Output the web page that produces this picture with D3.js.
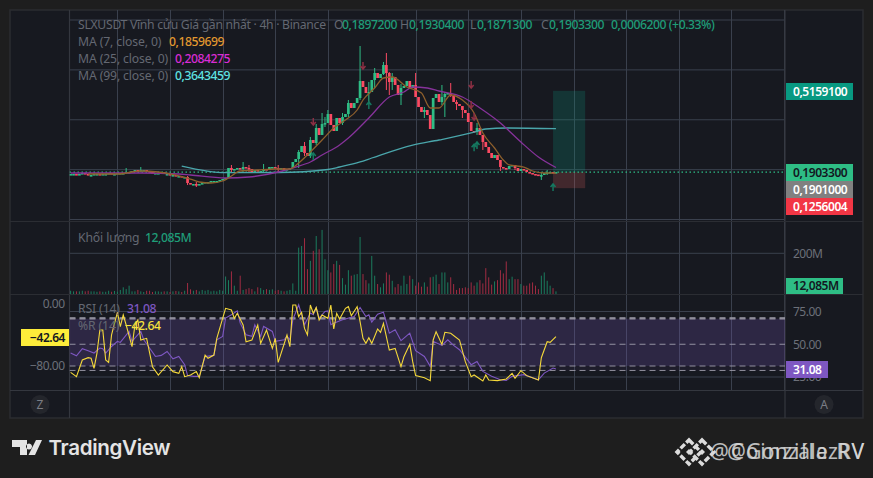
<!DOCTYPE html>
<html>
<head>
<meta charset="utf-8">
<script src="https://cdn.jsdelivr.net/npm/d3@7"></script>
<style>
  html, body { margin: 0; padding: 0; background: #1e1e1e; overflow: hidden; }
  svg { display: block; font-family: "Noto Sans", sans-serif; }
  .axis path, .axis line { display: none; }
  .axis text { fill: #6c7079; font-size: 12px; letter-spacing: -0.5px; font-family: "Noto Sans", sans-serif; }
</style>
</head>
<body>
<div id="chart"></div>
<script>
// Close of each 4h candle
const closes = [
  .1825,.1825,.1784,.1825,.1865,.1825,.1784,.1784,.1825,.1825,.1784,.1825,.1825,.1865,.1825,.1825,.1865,.1865,
  .1865,.1905,.1905,.1945,.1985,.1945,.1985,.1985,.1945,.1905,.1865,.1865,.1865,.1905,.1825,.1825,.1784,
  .1784,.1744,.1744,.1704,.1704,.1463,.1423,.1423,.1383,.1423,.1463,.1504,.1504,.1544,.1544,.1544,.1584,.1624,.1664,.2065,
  .1985,.2025,.2065,.2025,.2105,.2065,.2025,.1905,.1985,.1945,.1945,.2025,.1985,.2105,.2105,.2065,.2025,.2065,.1985,.2025,.2065,
  .2306,.2426,.2707,.2947,.2667,.2546,.3188,.3068,.3669,.3389,.3829,.3870,.4231,.3790,.3549,.4070,.3870,.4110,.4231,.4672,
  .4471,.4672,.4872,.5554,.5313,.5073,.5113,.5594,.5875,.5674,.5835,.6196,.5875,.5514,.5714,.5394,.4993,.5273,.5353,.5554,
  .5273,.5394,.4912,.4511,.4311,.4391,.4190,.3629,.4872,.5033,.4712,.4912,.5033,.5073,.4952,.4712,.4632,.4551,.4391,.4271,
  .3910,.3549,.3509,.3669,.3389,.3108,.2907,.2667,.2466,.2586,.2386,.2105,.2065,.2025,.2145,.2186,.2065,.1945,.2025,.1985,
  .1905,.1865,.1825,.1805,.1744,.1784,.1865,.1885,.1905,.1897,.1903
];

// Candles with a visible wick
const wickIdx  = [19,24,40,43,55,59,61,66,71,78,80,82,84,86,87,88,93,95,99,102,104,107,108,109,110,113,118,121,127,128,130,132,134,139,141,146,147,152,161,163];
const wickHigh = [.2065,.2105,.1744,.1504,.2186,.2306,.2186,.2226,.2186,.2787,.3108,.3309,.3829,.4271,.4110,.4391,.4271,.4792,.6957,.5514,.6075,.6316,.6677,.5915,.5875,.5434,.5875,.4511,.5393,.5113,.5474,.4792,.4471,.3870,.3268,.2386,.2386,.2145,.1905,.1985];
const wickLow  = [.1825,.1905,.1383,.1303,.1905,.1905,.1865,.1905,.1905,.2065,.2546,.2466,.2987,.3509,.3709,.4070,.3790,.4110,.4792,.4672,.5273,.5794,.5193,.4993,.5193,.4591,.4912,.4070,.4591,.4110,.4912,.4391,.4070,.3389,.2787,.2386,.1945,.1985,.1584,.1784];

// Volume in millions
const volumes = [
  16,13,13,13,16,13,16,13,13,11,13,11,11,16,11,15,11,20,
  33,24,41,13,13,20,13,10,16,16,10,13,13,11,13,13,10,13,15,13,10,16,
  54,23,16,20,13,20,16,20,13,16,13,20,16,
  86,68,111,41,16,90,20,24,29,24,13,33,29,20,24,20,23,16,20,16,13,16,20,
  52,16,228,236,274,122,
  163,212,285,220,315,171,117,106,147,163,143,78,46,117,90,95,98,280,98,68,52,187,90,49,33,52,106,95,65,33,49,41,90,49,90,73,41,57,36,57,36,
  82,85,95,49,106,106,57,82,49,20,29,29,33,29,57,41,57,68,52,127,82,46,62,68,117,101,160,73,85,73,73,49,41,41,52,57,41,24,90,106,65,41,29,13
];

// Moving averages
const ma7Idx  = [6,16,24,30,36,40,44,48,52,54,58,64,70,75,78,82,86,90,94,98,100,104,107,110,115,120,123,126,130,134,138,141,145,148,150,155,158,162,166];
const ma7Val  = [.1825,.1825,.1945,.1905,.1784,.1664,.1504,.1463,.1544,.1664,.1945,.1985,.2025,.2025,.2266,.2707,.3188,.3669,.3990,.4391,.4792,.5273,.5674,.5714,.5313,.5073,.4471,.4471,.4993,.4792,.4271,.3469,.2867,.2386,.2186,.2105,.1945,.1865,.1860];
const ma25Idx = [0,24,37,41,53,61,71,77,82,86,92,95,102,109,114,117,122,126,134,140,147,154,160,166];
const ma25Val = [.1865,.1865,.1825,.1784,.1664,.1704,.1905,.2105,.2306,.2586,.2987,.3268,.4070,.4912,.5113,.5313,.5273,.5153,.4912,.4471,.3870,.3108,.2506,.2084];
const ma99Idx = [38,53,71,88,92,99,103,117,126,137,142,149,166];
const ma99Val = [.2145,.1877,.1885,.2005,.2105,.2306,.2466,.2987,.3188,.3469,.3629,.3669,.3643];

// RSI (14)
const rsiIdx = [0,2,4,6,8,10,11,12,14,16,17,20,21,24,25,27,29,31,33,35,37,39,40,42,44,46,49,50,52,53,55,57,58,60,62,63,65,66,69,70,73,74,75,76,78,80,
  82,83,84,85,87,88,89,90,93,97,99,101,102,103,105,107,109,111,113,116,118,121,123,124,127,129,131,133,137,139,141,144,147,149,151,155,160,162,165,166];
const rsiVal = [43.3,41.2,46.6,45.1,43.3,47.1,46.6,43.3,48.3,52.2,51.4,59.8,52.2,59.8,53.4,47.1,40.7,41.5,44.5,38.9,40.7,34.4,26.2,25.5,25.5,40.7,41.5,53.4,56,70,72.5,75.5,66.1,57.2,56,64.9,56,63.6,59.8,52.2,53.4,56,53.4,68.7,80.1,64.9,
  73.8,72.5,78.1,70,75,75.5,64.9,66.1,68.7,71.2,78.1,71.2,72.5,66.9,73,74.5,58.5,61,52.7,58.5,45.1,40.7,33.1,52.2,49.1,53.4,49.1,45.8,34.4,36.9,29.3,25.5,22.9,22.4,25.5,26.8,22.9,28,31.8,31.08];

// %R (14)
const wprIdx = [0,2,4,6,7,8,9,10,11,12,13,14,16,17,18,19,21,22,23,24,26,28,30,33,35,37,38,39,41,43,44,46,47,49,50,52,53,55,56,57,59,60,62,64,65,67,69,70,71,74,75,76,77,78,79,80,81,82,
  83,84,85,86,88,89,90,91,92,94,95,96,98,99,100,101,102,103,105,106,107,109,111,113,114,116,117,118,121,123,124,125,127,128,130,133,135,137,138,141,142,143,146,149,151,152,154,156,160,161,163,164,166];
const wprVal = [-88.1,-93.6,-72.3,-69.4,-70.2,-83,-63.8,-34.1,-34.1,-72.3,-75.3,-40.4,-11.5,-29.8,-14.9,-27.7,-55.3,-27.7,-21.3,-46.8,-44.7,-80.9,-91.5,-78.7,-87.2,-89.4,-80.9,-93.6,-91.5,-87.2,-94.9,-66,-70.2,-66,-44.7,-19.2,-6.4,-8.6,-19.2,-12.8,-27.7,-49,-46.8,-27.7,-51.1,-34.1,-57.5,-44.7,-75.3,-40.4,-55.3,-2.2,-2.2,-17,-11.5,-32,-40.4,-2.2,
  -12.8,-5.6,-21.3,-14.9,-19.2,-2.2,-32.8,-12.8,-20,-6.4,-4.3,-15.8,-4.3,-23.4,-44.7,-51.1,-43.9,-51.1,-32.8,-37,-25.6,-59.6,-57.5,-80.9,-68.1,-52.4,-74.5,-92.3,-94.9,-98.7,-46.8,-36.2,-52.4,-37,-38.3,-46.8,-74.5,-93.6,-91.5,-99.1,-91.5,-97.9,-98.7,-96.6,-89.4,-95.7,-86,-92.3,-97.9,-69.4,-49,-49.8,-42.64];

// Pin arrows on the candles
const downIdx = [83,100,137,137,138];
const downVal = [.3789,.6035,.5273,.4471,.3990];
const upIdx   = [83,102,138,139,165];
const upVal   = [.2667,.4712,.3017,.3108,.1423];

// Tick labels
const priceTicks = [0.8,0.6,0.4,0.2,0];
const dayTicks   = [16,34,52,70,88,118,136,154,172,190,208,226,244];
const dayLabels  = ["14","17","20","23","26","Tháng 7","4","7","10","13","16","19","22"];

// Position box and last values
const boxStart = 165, boxEnd = 176;
const target = 0.5159100, lastClose = 0.1903300, entry = 0.1901000, stop = 0.1256004;

const width = 873, height = 478;
const left = 69.5, right = 785;
const green = "#2ebd85", red = "#fb4a62";

const svg = d3.select("#chart").append("svg")
    .attr("width", width)
    .attr("height", height);

// Scales, one per pane
const x = d3.scaleLinear().domain([16, 172]).range([117.4, 573.5]);
const yPrice = d3.scaleLinear().domain([0, 0.8]).range([219.5, 20]);
const yVol = d3.scaleLinear().domain([0, 200]).range([294, 253.3]);
const yRsi = d3.scaleLinear().domain([25, 75]).range([377, 311.5]);
const yWpr = d3.scaleLinear().domain([-80, 0]).range([366, 303.3]);

const clip = (id, x0, y0, w, h) => svg.append("clipPath").attr("id", id)
    .append("rect").attr("x", x0).attr("y", y0).attr("width", w).attr("height", h);
clip("plot", left, 10, right - left, 380);
clip("axisx", left, 391, right - left, 26);
clip("axisp", right, 10, 78, 211);

// Frame
svg.append("rect").attr("x", 0).attr("y", 0).attr("width", width).attr("height", height).attr("fill", "#1e1e1e");
svg.append("rect").attr("x", 10).attr("y", 10).attr("width", 853).attr("height", 408)
    .attr("fill", "#171920").attr("stroke", "#2b2c30").attr("stroke-width", 1.5);

// Grid
const grid = svg.append("g").attr("stroke", "#3a404d").attr("stroke-width", 1);
dayTicks.forEach(d => {
    grid.append("line").attr("x1", Math.round(x(d)) + 0.5).attr("x2", Math.round(x(d)) + 0.5).attr("y1", 10).attr("y2", 390);
});
priceTicks.forEach(p => {
    grid.append("line").attr("x1", left).attr("x2", right).attr("y1", yPrice(p)).attr("y2", yPrice(p));
});
grid.append("line").attr("x1", left).attr("x2", right).attr("y1", yVol(200)).attr("y2", yVol(200));
[75, 25].forEach(v => {
    grid.append("line").attr("x1", left).attr("x2", right).attr("y1", yRsi(v)).attr("y2", yRsi(v));
});

// Pane separators
const sep = svg.append("g").attr("stroke", "#34373f").attr("stroke-width", 1.2);
sep.append("line").attr("x1", left).attr("x2", left).attr("y1", 10).attr("y2", 418);
sep.append("line").attr("x1", right).attr("x2", right).attr("y1", 10).attr("y2", 418);
sep.append("line").attr("x1", 10).attr("x2", 863).attr("y1", 221.5).attr("y2", 221.5).attr("stroke", "#2b2d33");
sep.append("line").attr("x1", 10).attr("x2", 863).attr("y1", 294.5).attr("y2", 294.5).attr("stroke", "#2b2d33");
sep.append("line").attr("x1", 10).attr("x2", 863).attr("y1", 390.5).attr("y2", 390.5);

// RSI and %R bands
const plot = svg.append("g").attr("clip-path", "url(#plot)");
plot.append("rect").attr("x", left).attr("width", right - left)
    .attr("y", yRsi(70)).attr("height", yRsi(30) - yRsi(70)).attr("fill", "#7e57c2").attr("opacity", 0.07);
plot.append("rect").attr("x", left).attr("width", right - left)
    .attr("y", yWpr(-20)).attr("height", yWpr(-80) - yWpr(-20)).attr("fill", "#7e57c2").attr("opacity", 0.17);
[[yRsi(70), 1.5], [yWpr(-20), 1], [yRsi(50), 0.9], [yWpr(-80), 0.9], [yRsi(30), 0.9]].forEach(([y, w]) => {
    plot.append("line").attr("x1", left).attr("x2", right).attr("y1", y).attr("y2", y)
        .attr("stroke", "#9f9dab").attr("stroke-width", w).attr("stroke-dasharray", "6,4");
});

// Position box
plot.append("rect").attr("x", x(boxStart)).attr("width", x(boxEnd) - x(boxStart))
    .attr("y", yPrice(target)).attr("height", yPrice(entry) - yPrice(target)).attr("fill", "#0c9a80").attr("opacity", 0.22);
plot.append("rect").attr("x", x(boxStart)).attr("width", x(boxEnd) - x(boxStart))
    .attr("y", yPrice(entry)).attr("height", yPrice(stop) - yPrice(entry)).attr("fill", "#e0605a").attr("opacity", 0.22);

// Last price line
plot.append("line").attr("x1", left).attr("x2", right)
    .attr("y1", yPrice(lastClose)).attr("y2", yPrice(lastClose))
    .attr("stroke", green).attr("stroke-width", 1.2).attr("stroke-dasharray", "1.5,2.5");

// Volume bars
const candles = closes.map((c, i) => ({i: i, close: c, open: i ? closes[i - 1] : c, vol: volumes[i]}));
plot.selectAll(".vol").data(candles).enter().append("rect")
    .attr("class", "vol")
    .attr("x", d => x(d.i) - 0.5)
    .attr("width", 1)
    .attr("y", d => yVol(d.vol))
    .attr("height", d => yVol(0) - yVol(d.vol))
    .attr("fill", d => d.close >= d.open ? "#1b7c5e" : "#a02c42");

// Candles
plot.selectAll(".wick").data(wickIdx).enter().append("line")
    .attr("class", "wick")
    .attr("x1", d => x(d)).attr("x2", d => x(d))
    .attr("y1", (d, k) => yPrice(wickHigh[k]))
    .attr("y2", (d, k) => yPrice(wickLow[k]))
    .attr("stroke-width", 1)
    .attr("stroke", d => candles[d].close >= candles[d].open ? green : red);
plot.selectAll(".body").data(candles).enter().append("rect")
    .attr("class", "body")
    .attr("x", d => x(d.i) - 1.35)
    .attr("width", 2.7)
    .attr("y", d => yPrice(Math.max(d.open, d.close)))
    .attr("height", d => Math.max(1.6, Math.abs(yPrice(d.open) - yPrice(d.close))))
    .attr("fill", d => d.close >= d.open ? green : red);

// MA lines
const lineOf = (idx, vals, y, curve) => d3.line()
    .x((d, k) => x(idx[k]))
    .y(d => y(d))
    .curve(curve)(vals);
plot.append("path").attr("d", lineOf(ma99Idx, ma99Val, yPrice, d3.curveMonotoneX))
    .attr("fill", "none").attr("stroke", "#4aa6ab").attr("stroke-width", 1.3);
plot.append("path").attr("d", lineOf(ma25Idx, ma25Val, yPrice, d3.curveMonotoneX))
    .attr("fill", "none").attr("stroke", "#86329a").attr("stroke-width", 1.3);
plot.append("path").attr("d", lineOf(ma7Idx, ma7Val, yPrice, d3.curveMonotoneX))
    .attr("fill", "none").attr("stroke", "#8d5f2c").attr("stroke-width", 1.3);

// RSI and %R lines
plot.append("path").attr("d", lineOf(rsiIdx, rsiVal, yRsi, d3.curveLinear))
    .attr("fill", "none").attr("stroke", "#7e57c2").attr("stroke-width", 1.1);
plot.append("path").attr("d", lineOf(wprIdx, wprVal, yWpr, d3.curveLinear))
    .attr("fill", "none").attr("stroke", "#f5d93a").attr("stroke-width", 1.1);

// Pin arrows
const arrow = (xp, tip, dir, color) => {
    // dir 1 points down, -1 points up
    const y0 = tip - dir * 7;
    plot.append("path")
        .attr("d", `M${xp},${y0}L${xp},${tip}M${xp - 2.5},${tip - dir * 3}L${xp},${tip}L${xp + 2.5},${tip - dir * 3}`)
        .attr("fill", "none").attr("stroke", color).attr("stroke-width", 1.5);
};
downIdx.forEach((d, k) => arrow(x(d), yPrice(downVal[k]), 1, "#8c2f43"));
upIdx.forEach((d, k) => arrow(x(d), yPrice(upVal[k]), -1, "#15775f"));

// Axes
const fmtPrice = d => d3.format(".7f")(d).replace(".", ",");
svg.append("g").attr("class", "axis").attr("clip-path", "url(#axisp)")
    .attr("transform", `translate(${right + 1},0)`)
    .call(d3.axisRight(yPrice).tickValues(priceTicks).tickFormat(fmtPrice).tickSize(0).tickPadding(7))
    .selectAll("text").attr("dy", "0.15em");
svg.append("g").attr("class", "axis").attr("transform", `translate(${right + 1},0)`)
    .call(d3.axisRight(yVol).tickValues([200]).tickFormat(d => d + "M").tickSize(0).tickPadding(7));
svg.append("g").attr("class", "axis").attr("transform", `translate(${right + 1},0)`)
    .call(d3.axisRight(yRsi).tickValues([75, 50, 25]).tickFormat(d3.format(".2f")).tickSize(0).tickPadding(7));
svg.append("g").attr("class", "axis").attr("transform", `translate(${left - 1},0)`)
    .call(d3.axisLeft(yWpr).tickValues([0, -80]).tickFormat(d => d3.format(".2f")(d).replace("-", "−")).tickSize(0).tickPadding(4));
svg.append("g").attr("class", "axis").attr("clip-path", "url(#axisx)")
    .attr("transform", "translate(0,391)")
    .call(d3.axisBottom(x).tickValues(dayTicks).tickFormat((d, k) => dayLabels[k]).tickSize(0).tickPadding(7));

// Price tags
const tag = (x0, y0, w, h, color, textColor, label, anchor) => {
    svg.append("rect").attr("x", x0).attr("y", y0).attr("width", w).attr("height", h).attr("fill", color);
    svg.append("text").attr("x", anchor === "end" ? x0 + w - 4 : x0 + 7).attr("y", y0 + h / 2 + 4.3)
        .attr("text-anchor", anchor || "start").attr("letter-spacing", -0.45)
        .attr("fill", textColor).attr("font-size", 12).attr("font-weight", 600).text(label);
};
tag(786, 83, 67, 17, "#089981", "#ffffff", fmtPrice(target));
tag(786, 164, 67, 17, green, "#131722", fmtPrice(lastClose));
tag(786, 181, 67, 17, "#808080", "#ffffff", fmtPrice(entry));
tag(786, 198, 67, 17, "#f23645", "#ffffff", fmtPrice(stop));
tag(786, 278, 57, 16, green, "#131722", "12,085M");
tag(786, 361, 42, 17, "#7e57c2", "#ffffff", "31.08");
tag(21, 329, 48, 17, "#fdec3a", "#131722", "−42.64", "end");

// Legend, each part placed where the picture has it
const legendGrey = "#646872", legendGreen = "#1f9d78";
const legendPart = (xp, y0, label, color) => {
    const isNumber = color !== legendGrey;
    return svg.append("text").attr("x", xp).attr("y", y0).attr("fill", color)
        .attr("font-size", 12.2)
        .attr("letter-spacing", isNumber ? -0.45 : -0.12)
        .attr("font-weight", isNumber ? 500 : 400)
        .text(label);
};
legendPart(78, 29, "SLXUSDT Vĩnh cửu Giá gần nhất · 4h · Binance", legendGrey)
    .attr("letter-spacing", null).attr("textLength", 248).attr("lengthAdjust", "spacing");
[[334, "O", 342, "0,1897200"], [400, "H", 409, "0,1930400"], [470, "L", 477, "0,1871300"], [541, "C", 549, "0,1903300"]].forEach(p => {
    legendPart(p[0], 29, p[1], legendGrey);
    legendPart(p[2], 29, p[3], legendGreen);
});
legendPart(611, 29, "0,0006200 (+0.33%)", legendGreen);
legendPart(78, 46, "MA (7, close, 0)", legendGrey);
legendPart(169, 46, "0,1859699", "#e2982f");
legendPart(78, 63, "MA (25, close, 0)", legendGrey);
legendPart(175, 63, "0,2084275", "#d92cd4");
legendPart(78, 80, "MA (99, close, 0)", legendGrey);
legendPart(175, 80, "0,3643459", "#5fe3e3");
legendPart(78, 242, "Khối lượng", legendGrey);
legendPart(145, 242, "12,085M", legendGreen);
legendPart(78, 313, "RSI (14)", legendGrey);
legendPart(127, 313, "31.08", "#7e57c2");
legendPart(78, 330, "%R (14)", legendGrey);
legendPart(125, 330, "−42.64", "#f7e23e");

// Scale buttons
[[40, "Z"], [824, "A"]].forEach(([cx, s]) => {
    svg.append("circle").attr("cx", cx).attr("cy", 404.5).attr("r", 9.5).attr("fill", "#24262c");
    svg.append("text").attr("x", cx).attr("y", 409).attr("text-anchor", "middle")
        .attr("fill", "#7a7d85").attr("font-size", 12).text(s);
});

// TradingView footer
svg.append("path").attr("fill", "#e4e4e4")
    .attr("d", "M12,440H27V455H20V447H12ZM36,440H42L35,455H28.5ZM29,443.5a3,3 0 1,0 0.01,0Z");
svg.append("text").attr("x", 48.5).attr("y", 455).attr("fill", "#e4e4e4")
    .attr("font-family", "Inter, sans-serif").attr("font-size", 20.6).attr("font-weight", 600)
    .attr("letter-spacing", -0.35).text("TradingView");

// Watermark, two signatures on top of each other
const diamond = (cx, cy, r) => `M${cx},${cy - r}L${cx + r},${cy}L${cx},${cy + r}L${cx - r},${cy}Z`;
[[689, 452], [702, 452]].forEach(([cx, cy]) => {
    svg.append("path").attr("d", diamond(cx, cy, 12)).attr("fill", "none")
        .attr("stroke", "#dcdcdc").attr("stroke-width", 3.4).attr("stroke-dasharray", "6,2");
    svg.append("path").attr("d", diamond(cx, cy, 3)).attr("fill", "#dcdcdc");
});
svg.append("path").attr("d", diamond(678, 452, 2.5)).attr("fill", "#dcdcdc");
svg.append("text").attr("x", 710).attr("y", 459).attr("fill", "#d8d8d8").attr("opacity", 0.85)
    .attr("font-size", 21).attr("textLength", 154).attr("lengthAdjust", "spacing").text("@Coinzilla RV");
svg.append("text").attr("x", 727).attr("y", 459).attr("fill", "#d8d8d8").attr("opacity", 0.85)
    .attr("font-size", 21).attr("textLength", 137).attr("lengthAdjust", "spacing").text("@GonzálezRV");
</script>
</body>
</html>
